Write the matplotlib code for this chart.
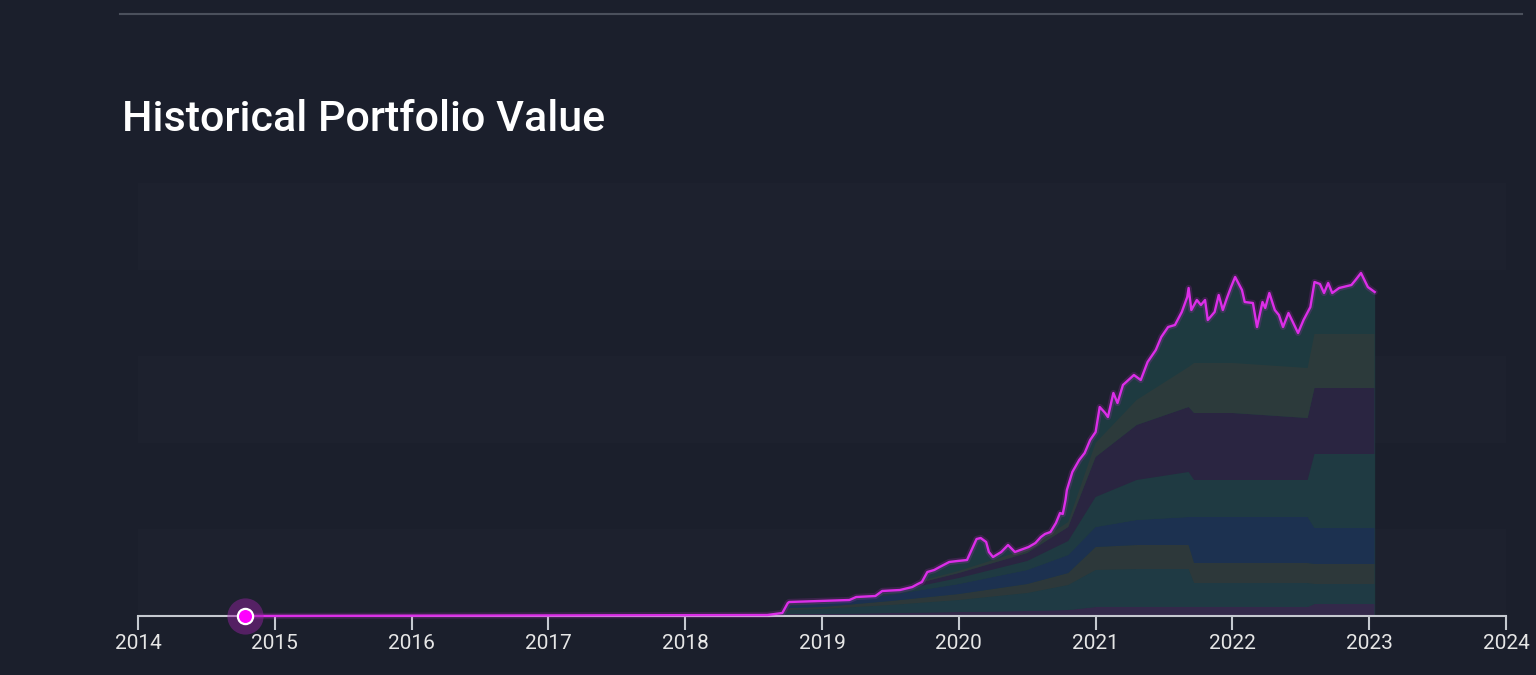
import matplotlib
matplotlib.use("Agg")
import matplotlib.pyplot as plt
from matplotlib.lines import Line2D

plt.rcParams['font.family'] = ['Roboto', 'DejaVu Sans']

# portfolio total, decimal years vs value (arbitrary units, axis is unlabeled)
years = [2014.78, 2018.60, 2018.71, 2018.75, 2018.76, 2018.98, 2019.20, 2019.25, 2019.39,
         2019.42, 2019.44, 2019.57, 2019.66, 2019.70, 2019.73, 2019.77, 2019.82, 2019.86,
         2019.93, 2019.99, 2020.06, 2020.13, 2020.16, 2020.20, 2020.22, 2020.25, 2020.31,
         2020.36, 2020.41, 2020.51, 2020.56, 2020.60, 2020.63, 2020.67, 2020.71, 2020.74,
         2020.76, 2020.78, 2020.79, 2020.83, 2020.88, 2020.92, 2020.96, 2021.00, 2021.03,
         2021.07, 2021.09, 2021.13, 2021.16, 2021.20, 2021.28, 2021.33, 2021.38, 2021.44,
         2021.48, 2021.53, 2021.58, 2021.63, 2021.67, 2021.68, 2021.70, 2021.74, 2021.77,
         2021.80, 2021.82, 2021.87, 2021.90, 2021.93, 2021.96, 2021.99, 2022.02, 2022.07,
         2022.09, 2022.15, 2022.18, 2022.22, 2022.24, 2022.27, 2022.31, 2022.34, 2022.37,
         2022.41, 2022.48, 2022.52, 2022.57, 2022.60, 2022.64, 2022.67, 2022.70, 2022.73,
         2022.78, 2022.87, 2022.90, 2022.94, 2022.99, 2023.04]
portfolio_value = [0, 1, 3, 13, 14, 15, 16, 19, 20,
                   23, 25, 26, 29, 32, 34, 44, 46, 49,
                   54, 55, 56, 77, 78, 74, 64, 59, 64,
                   71, 64, 69, 73, 79, 82, 84, 93, 103,
                   102, 116, 126, 144, 156, 163, 176, 184, 209,
                   203, 199, 223, 213, 231, 241, 236, 254, 266,
                   279, 289, 291, 304, 319, 328, 306, 316, 311,
                   316, 296, 304, 321, 306, 318, 329, 339, 326,
                   314, 313, 289, 314, 308, 323, 306, 301, 289,
                   303, 283, 296, 309, 334, 332, 323, 333, 323,
                   328, 331, 336, 343, 329, 324]

# holdings underneath the total (bottom to top), sampled at fewer dates
layer_dates = [2018.70, 2018.76, 2019.00, 2019.50, 2020.00, 2020.50, 2020.80, 2021.00,
               2021.30, 2021.68, 2021.72, 2022.00, 2022.55, 2022.60, 2023.04]
holding_a = [1, 2, 2, 3, 4, 5, 6, 9, 9, 9, 9, 9, 9, 12, 12]
holding_b = [1, 4, 5, 8, 12, 18, 25, 37, 38, 38, 24, 24, 24, 20, 20]
holding_c = [0, 2, 2, 4, 6, 9, 12, 23, 24, 24, 20, 20, 20, 20, 20]
holding_d = [0, 2, 3, 6, 10, 14, 18, 20, 25, 28, 46, 46, 46, 36, 36]
holding_e = [0, 1, 1, 3, 6, 9, 14, 30, 40, 45, 37, 37, 37, 74, 74]
holding_f = [0, 1, 1, 2, 5, 8, 14, 40, 55, 65, 67, 67, 62, 66, 66]
holding_g = [0, 0, 0, 1, 2, 4, 5, 14, 25, 40, 50, 50, 50, 54, 54]
holdings = [holding_a, holding_b, holding_c, holding_d, holding_e, holding_f, holding_g]
holding_colors = ['#33294a', '#1f3a44', '#2d383a', '#1c3150', '#1f3a42', '#2a2541', '#2c3a3b']
top_color = '#1e3a40'

year_ticks = list(range(2014, 2025))

bg = '#1b1f2c'
fig = plt.figure(figsize=(15.36, 6.75), dpi=100, facecolor=bg)
ax = fig.add_axes([138 / 1536, 59 / 675, 1368 / 1536, 433 / 675])
ax.set_facecolor(bg)
ax.set_xlim(2014, 2024)
ax.set_ylim(0, 433)

# alternating faint bands
band = 433 / 5
for i in (0, 2, 4):
    ax.axhspan(i * band, (i + 1) * band, color='white', alpha=0.012, lw=0, zorder=0)

total_fill = ax.fill_between(years, portfolio_value, 0, color=top_color, lw=0, zorder=1)
clip = total_fill.get_paths()[0]
stack = ax.stackplot(layer_dates, *holdings, colors=holding_colors, lw=0, zorder=2)
for poly in stack:
    poly.set_clip_path(clip, ax.transData)

ax.plot(years, portfolio_value, color='#e02ee8', lw=4.5, alpha=0.16, zorder=4,
        clip_on=False, solid_capstyle='round')
ax.plot(years, portfolio_value, color='#dc2ee8', lw=1.7, zorder=5, clip_on=False,
        solid_joinstyle='round')

# start marker with halo
ax.scatter([years[0]], [portfolio_value[0]], s=680, color='#9a22a8', alpha=0.45,
           lw=0, zorder=6, clip_on=False)
ax.scatter([years[0]], [portfolio_value[0]], s=120, color='#ff00ff', edgecolors='white',
           linewidths=1.6, zorder=7, clip_on=False)

for side in ('top', 'left', 'right'):
    ax.spines[side].set_visible(False)
ax.spines['bottom'].set_color('#c5c9d0')
ax.spines['bottom'].set_linewidth(1.5)
ax.spines['bottom'].set_zorder(3)
ax.set_yticks([])
ax.set_xticks(year_ticks)
ax.set_xticklabels([str(y) for y in year_ticks])
ax.tick_params(axis='x', direction='out', length=10, width=1.5, color='#c5c9d0',
               labelsize=15, labelcolor='#e6e6e6', pad=3)

fig.text(122 / 1536, 1 - 131 / 675, 'Historical Portfolio Value', fontsize=31,
         fontweight='medium', color='white', va='baseline', ha='left')
fig.add_artist(Line2D([120 / 1536, 1522 / 1536], [1 - 14 / 675, 1 - 14 / 675],
                      color='#4b505c', lw=1.5))

fig.savefig('out.png', dpi=100, facecolor=bg)
